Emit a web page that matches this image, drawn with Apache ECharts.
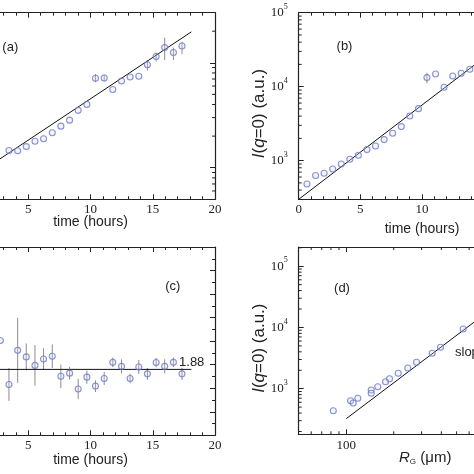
<!DOCTYPE html>
<html>
<head>
<meta charset="utf-8">
<script src="https://cdn.jsdelivr.net/npm/echarts@6/dist/echarts.min.js"></script>
<style>
html,body{margin:0;padding:0;background:#fff;}
#main{width:474px;height:474px;}
</style>
</head>
<body>
<div id="main"></div>
<script>
// measurement times (hours), shared by (a), (b), (c)
var times = [0.67, 1.37, 2.06, 2.76, 3.45, 4.15, 4.84, 5.54, 6.23, 6.93, 7.62, 8.32, 9.01,
             9.71, 10.40, 11.10, 11.79, 12.49, 13.18, 13.88, 14.57, 15.27, 15.96, 16.66, 17.35];

// (a) R_G (um) vs time, visible part
var aTime = times.slice(4);
var aR = [146, 145, 159, 179, 189, 215, 249, 284, 352, 401, 711, 717, 556, 671, 732, 743, 957, 1147, 1395, 1252, 1447];
var aErrLo = [null, null, null, null, null, null, null, null, null, null, 652, 662, null, null, null, null, 840, 1029, 1060, 1060, 1207];
var aErrHi = [null, null, null, null, null, null, null, null, null, null, 782, 771, null, null, null, null, 1060, 1251, 1733, 1394, 1588];
var aFitT = [0, 18.1];
var aFitR = [74, 1970];

// (b) I(q=0) vs time
var bTime = times.slice(0, 20);
var bI = [484, 628, 675, 772, 902, 1043, 1182, 1409, 1580, 1923, 2344, 2884, 4019, 5047, 13250, 14860, 9800, 13960, 15170, 17170];
var bErrLo = [null, null, null, null, null, null, null, null, null, null, null, null, null, null, 11120, null, null, null, null, null];
var bErrHi = [null, null, null, null, null, null, null, null, null, null, null, null, null, null, 15450, null, null, null, null, null];
var bFitT = [0, 18];
var bFitI = [300, 59000];

// (c) fractal dimension vs time
var cTime = times.slice(3);
var cD = [2.003, 1.816, 1.961, 1.933, 1.897, 1.924, 1.936, 1.851, 1.864, 1.797, 1.847, 1.809, 1.841,
          1.910, 1.893, 1.841, 1.890, 1.861, 1.909, 1.893, 1.910, 1.861];
var cErr = [null, 0.07, 0.138, 0.057, 0.086, 0.046, 0.05, 0.05, 0.027, 0.043, 0.028, 0.025, 0.028,
            0.02, 0.03, 0.02, 0.03, 0.025, 0.02, 0.03, 0.02, 0.026];
var cFitT = [0, 18.1];
var cFitD = [1.88, 1.88];

// (d) I(q=0) vs R_G
var dR = [82.8, 106.5, 110.7, 118.4, 143.9, 143.9, 158.5, 177.3, 188, 213.4, 245.4, 278.7, 350, 395.3, 550];
var dI = [437, 637, 584, 697, 952, 841, 1078, 1301, 1457, 1785, 2178, 2700, 3787, 4746, 9445];
var dFitR = [100, 650];
var dFitI = [324, 12400];

// log minor tick values
var aMinor = [60, 70, 80, 90, 200, 300, 400, 500, 600, 700, 800, 900, 2000];
var bMinor = [400, 500, 600, 700, 800, 900, 2000, 3000, 4000, 5000, 6000, 7000, 8000, 9000,
              20000, 30000, 40000, 50000, 60000, 70000, 80000, 90000];
var dMinorX = [60, 70, 80, 90, 200, 300, 400, 500, 600, 700, 800, 900];
var dMinorY = [200, 300, 400, 500, 600, 700, 800, 900, 2000, 3000, 4000, 5000, 6000, 7000, 8000, 9000,
               20000, 30000, 40000, 50000, 60000, 70000, 80000, 90000, 200000];

var ink = '#222';
var serif = '"Liberation Serif", "DejaVu Serif", serif';
var sans = '"Liberation Sans", Arial, sans-serif';
var dotColor = '#6b79c4';

function zip(a, b) {
    var out = [];
    for (var i = 0; i < a.length; i++) out.push([a[i], b[i]]);
    return out;
}

function powLabel(v) {
    var e = Math.log10(v), r = Math.round(e);
    if (Math.abs(e - r) > 1e-6) return '';
    return '{m|10}{s|' + r + '}';
}
function plainLog(v) {
    var e = Math.log10(v), r = Math.round(e);
    if (Math.abs(e - r) > 1e-6) return '';
    return String(Math.round(v));
}

function axis(grid, pos, type, min, max, extra) {
    var o = {
        gridIndex: grid, position: pos, type: type, min: min, max: max,
        axisLine: {show: true, onZero: false, lineStyle: {color: ink, width: 1.2}},
        axisTick: {show: true, inside: true, length: 5, lineStyle: {color: ink, width: 1}},
        axisLabel: {show: false},
        splitLine: {show: false},
        nameMoveOverlap: false
    };
    for (var k in extra) o[k] = extra[k];
    return o;
}

var timeLabel = {show: true, fontFamily: serif, fontSize: 13, color: ink, margin: 4};
var timeMinor = {show: true, splitNumber: 5, length: 3, lineStyle: {color: ink, width: 1}};
function timeName(gap) {
    return {name: 'time (hours)', nameLocation: 'middle', nameGap: gap,
            nameTextStyle: {fontFamily: sans, fontSize: 14, color: ink}};
}
var powRich = {
    m: {fontFamily: serif, fontSize: 13, lineHeight: 20, color: ink},
    s: {fontFamily: serif, fontSize: 8, verticalAlign: 'top', color: ink}
};
var intensityName = {
    name: '{it|I}({it|q}=0) (a.u.)', nameLocation: 'middle', nameGap: 31,
    nameTextStyle: {fontFamily: sans, fontSize: 17, color: ink, padding: [0, 15, 0, 0],
                    rich: {it: {fontFamily: sans, fontSize: 17, fontStyle: 'italic', color: ink}}}
};

function merge(a, b) {
    var o = {};
    for (var k in a) o[k] = a[k];
    for (var j in b) o[j] = b[j];
    return o;
}

var xAxes = [
    axis(0, 'bottom', 'value', 0, 20, merge({interval: 5, axisLabel: timeLabel, minorTick: timeMinor}, timeName(16))),
    axis(0, 'top', 'value', 0, 20, {interval: 5, minorTick: timeMinor}),
    axis(1, 'bottom', 'value', 0, 20, merge({interval: 5, axisLabel: timeLabel, minorTick: timeMinor}, timeName(23))),
    axis(1, 'top', 'value', 0, 20, {interval: 5, minorTick: timeMinor}),
    axis(2, 'bottom', 'value', 0, 20, merge({interval: 5, axisLabel: timeLabel, minorTick: timeMinor}, timeName(18))),
    axis(2, 'top', 'value', 0, 20, {interval: 5, minorTick: timeMinor}),
    axis(3, 'bottom', 'log', 50, 2000, {
        axisLabel: {show: true, fontFamily: serif, fontSize: 13, color: ink, margin: 5, formatter: plainLog},
        name: '{it|R}{sub|G} (μm)', nameLocation: 'middle', nameGap: 16,
        nameTextStyle: {fontFamily: sans, fontSize: 15, color: ink,
                        rich: {it: {fontFamily: sans, fontSize: 15, fontStyle: 'italic', color: ink},
                               sub: {fontFamily: sans, fontSize: 8, verticalAlign: 'bottom', color: ink}}}
    }),
    axis(3, 'top', 'log', 50, 2000, {})
];

var yAxes = [
    axis(0, 'left', 'log', 50, 3000, {}),
    axis(0, 'right', 'log', 50, 3000, {}),
    axis(1, 'left', 'log', 300, 100000, merge({
        axisLabel: {show: true, margin: 11, formatter: powLabel, rich: powRich}
    }, intensityName)),
    axis(1, 'right', 'log', 300, 100000, {}),
    axis(2, 'left', 'value', 1.6, 2.4, {interval: 0.1,
        minorTick: {show: true, splitNumber: 2, length: 3, lineStyle: {color: ink, width: 1}}}),
    axis(2, 'right', 'value', 1.6, 2.4, {interval: 0.1,
        minorTick: {show: true, splitNumber: 2, length: 3, lineStyle: {color: ink, width: 1}}}),
    axis(3, 'left', 'log', 180, 206000, merge({
        axisLabel: {show: true, margin: 11, formatter: powLabel, rich: powRich}
    }, intensityName)),
    axis(3, 'right', 'log', 180, 206000, {})
];

function dots(xi, ts, vals) {
    return {
        type: 'scatter', xAxisIndex: xi, yAxisIndex: xi, data: zip(ts, vals),
        symbol: 'circle', symbolSize: 6, z: 4, silent: true,
        itemStyle: {color: 'rgba(215,220,245,0.35)', borderColor: dotColor, borderWidth: 1.1}
    };
}
function fit(xi, ts, vals) {
    return {
        type: 'line', xAxisIndex: xi, yAxisIndex: xi, data: zip(ts, vals),
        symbol: 'none', showSymbol: false, z: 3, silent: true,
        lineStyle: {color: '#111', width: 1}
    };
}
function bars(xi, ts, lo, hi) {
    var data = [];
    for (var i = 0; i < ts.length; i++) {
        if (lo[i] != null) data.push([ts[i], lo[i], hi[i]]);
    }
    return {
        type: 'custom', xAxisIndex: xi, yAxisIndex: xi, data: data, z: 2, silent: true,
        encode: {x: 0, y: [1, 2]},
        renderItem: function (params, api) {
            var p1 = api.coord([api.value(0), api.value(1)]);
            var p2 = api.coord([api.value(0), api.value(2)]);
            return {type: 'line', shape: {x1: p1[0], y1: p1[1], x2: p2[0], y2: p2[1]},
                    style: {stroke: '#8c8c8c', lineWidth: 1}};
        }
    };
}
function yMinor(xi, yi, vals, xv) {
    return {
        type: 'custom', xAxisIndex: xi, yAxisIndex: yi, z: 1, silent: true,
        data: vals.map(function (v) { return [xv, v]; }),
        renderItem: function (params, api) {
            var cs = params.coordSys;
            var y = api.coord([api.value(0), api.value(1)])[1];
            var st = {stroke: ink, lineWidth: 1};
            return {type: 'group', children: [
                {type: 'line', shape: {x1: cs.x, y1: y, x2: cs.x + 3, y2: y}, style: st},
                {type: 'line', shape: {x1: cs.x + cs.width, y1: y, x2: cs.x + cs.width - 3, y2: y}, style: st}
            ]};
        }
    };
}
function xMinor(xi, yi, vals, yv) {
    return {
        type: 'custom', xAxisIndex: xi, yAxisIndex: yi, z: 1, silent: true,
        data: vals.map(function (v) { return [v, yv]; }),
        renderItem: function (params, api) {
            var cs = params.coordSys;
            var x = api.coord([api.value(0), api.value(1)])[0];
            var st = {stroke: ink, lineWidth: 1};
            return {type: 'group', children: [
                {type: 'line', shape: {x1: x, y1: cs.y + cs.height, x2: x, y2: cs.y + cs.height - 3}, style: st},
                {type: 'line', shape: {x1: x, y1: cs.y, x2: x, y2: cs.y + 3}, style: st}
            ]};
        }
    };
}

var cLo = [], cHi = [];
for (var i = 0; i < cD.length; i++) {
    cLo.push(cErr[i] == null ? null : cD[i] - cErr[i]);
    cHi.push(cErr[i] == null ? null : cD[i] + cErr[i]);
}

function note(text, x, y, size, align) {
    return {type: 'text', x: x, y: y, silent: true, z: 10,
            style: {text: text, fill: ink, font: size + 'px ' + sans,
                    textAlign: align || 'center', textVerticalAlign: 'middle',
                    align: align || 'center', verticalAlign: 'middle'}};
}

var chart = echarts.init(document.getElementById('main'));
chart.setOption({
    animation: false,
    backgroundColor: '#fff',
    grid: [
        {left: -34, top: 12.7, width: 249, height: 186.6, outerBoundsMode: 'none'},
        {left: 298.7, top: 12.7, width: 246.6, height: 186.6, outerBoundsMode: 'none'},
        {left: -34, top: 247, width: 249, height: 188.3, outerBoundsMode: 'none'},
        {left: 298.7, top: 247, width: 253, height: 187.3, outerBoundsMode: 'none'}
    ],
    xAxis: xAxes,
    yAxis: yAxes,
    series: [
        yMinor(0, 1, aMinor, 10),
        bars(0, aTime, aErrLo, aErrHi),
        fit(0, aFitT, aFitR),
        dots(0, aTime, aR),
        yMinor(2, 2, bMinor, 10),
        bars(2, bTime, bErrLo, bErrHi),
        fit(2, bFitT, bFitI),
        dots(2, bTime, bI),
        bars(4, cTime, cLo, cHi),
        fit(4, cFitT, cFitD),
        dots(4, cTime, cD),
        xMinor(6, 6, dMinorX, 1000),
        yMinor(6, 6, dMinorY, 100),
        fit(6, dFitR, dFitI),
        dots(6, dR, dI)
    ],
    graphic: [
        note('(a)', 10.3, 47.5, 13),
        note('(b)', 344.5, 46, 13),
        note('(c)', 172.8, 286, 13),
        note('(d)', 342, 288.7, 13),
        note('1.88', 191.7, 362, 13),
        note('slope', 455, 352, 13, 'left')
    ]
});
</script>
</body>
</html>
